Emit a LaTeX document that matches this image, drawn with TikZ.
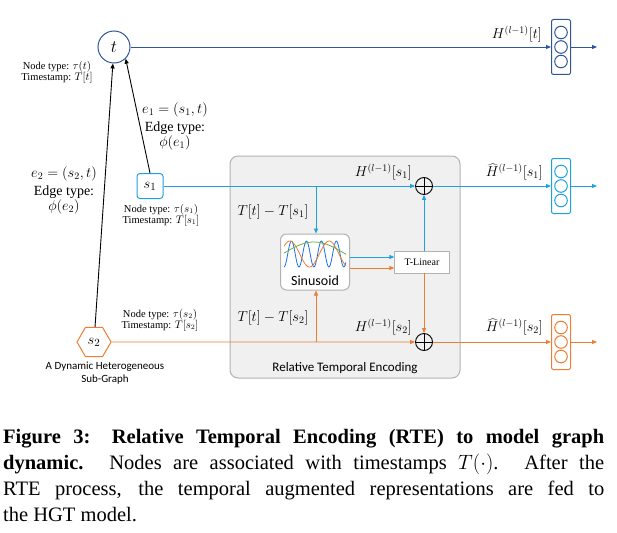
\documentclass[tikz,border=0pt]{standalone}
\usepackage{fontspec}
\setmainfont{Liberation Serif}
\newfontfamily\calfnt{Carlito}
\usetikzlibrary{shapes.geometric,arrows.meta,calc}
\definecolor{dblue}{RGB}{47,85,151}
\definecolor{cblue}{RGB}{29,161,226}
\definecolor{orng}{RGB}{237,125,49}
\definecolor{grn}{RGB}{112,173,71}
\tikzset{
  x=1pt,y=-1pt,
  arr/.style={-{Triangle[length=5pt,width=4pt]},line width=0.9pt},
  small/.style={font=\fontsize{10.5}{11}\selectfont,align=center,inner sep=0pt},
  mlab/.style={font=\fontsize{14}{15}\selectfont,inner sep=0pt},
  vec/.style={draw=#1,rounded corners=2pt,line width=1pt,minimum width=19pt,minimum height=55pt},
  opl/.style={draw,circle,line width=0.9pt,minimum size=17pt,inner sep=0pt},
}
\newcommand{\vecbox}[3]{%
  \node[vec=#3] (#1) at #2 {};
  \foreach \d in {-14.5,0,14.5}{\draw[#3,line width=1pt] ($(#1.center)+(0,\d)$) circle (6.3pt);}
}
\begin{document}
\begin{tikzpicture}
\useasboundingbox (0,0) rectangle (617,532);
% gray box
\node[draw=gray!60,fill=gray!12,rounded corners=8pt,line width=1pt,minimum width=230pt,minimum height=222pt] (rte) at (345,267) {};
\node[font=\calfnt\fontsize{13}{14}\selectfont] (rtel) at (345,368) {Relative Temporal Encoding};
% nodes
\node[draw=dblue,circle,line width=1pt,minimum size=32pt,inner sep=0pt,font=\fontsize{17}{18}\selectfont] (t) at (114,47) {$t$};
\node[draw=cblue,rounded corners=3pt,line width=1pt,minimum width=26pt,minimum height=25pt,font=\fontsize{15}{16}\selectfont] (s1) at (150,186) {$s_1$};
\node[draw=orng,regular polygon,regular polygon sides=6,line width=1pt,minimum size=34pt,inner sep=0pt,font=\fontsize{15}{16}\selectfont] (s2) at (94,342) {$s_2$};
\vecbox{vt}{(561,47)}{dblue}
\vecbox{v1}{(561,186)}{cblue}
\vecbox{v2}{(561,342)}{orng}
\coordinate (ot) at (597,47);
\coordinate (o1) at (597,186);
\coordinate (o2) at (597,342);
\node[opl] (p1) at (424,186) {};
\node[opl] (p2) at (424,342) {};
\draw[line width=0.9pt] (p1.north)--(p1.south) (p1.west)--(p1.east) (p2.north)--(p2.south) (p2.west)--(p2.east);
% sinusoid
\node[draw=gray!60,fill=white,rounded corners=6pt,line width=1pt,minimum width=69pt,minimum height=56pt] (sin) at (315,262) {};
\node[font=\calfnt\fontsize{14}{15}\selectfont] (sinl) at (315,281) {Sinusoid};
\begin{scope}
\clip (284,238) rectangle (346,270);
\draw[cblue!70!blue,line width=0.8pt] plot[domain=284:346,samples=80,smooth] (\x,{254+13*cos(deg((\x-284)*0.42))});
\draw[orng,line width=0.8pt] plot[domain=284:346,samples=60,smooth] (\x,{254+13*cos(deg((\x-284)*0.16+2.2))});
\draw[grn,line width=0.8pt] plot[domain=284:346,samples=40,smooth] (\x,{254-12*cos(deg((\x-284)*0.05-1.5))});
\end{scope}
\node[draw=gray!60,fill=white,minimum width=55pt,minimum height=22pt,font=\fontsize{10}{11}\selectfont] (tl) at (422,262) {T-Linear};
% lines
\draw[arr,dblue] (t) -- (vt);
\draw[arr,dblue] (vt) -- (ot);
\draw[arr,cblue] (s1) -- (p1);
\draw[arr,cblue] (p1) -- (v1);
\draw[arr,cblue] (v1) -- (o1);
\draw[arr,orng] (s2) -- (p2);
\draw[arr,orng] (p2) -- (v2);
\draw[arr,orng] (v2) -- (o2);
\coordinate (j1) at (316,186);
\coordinate (j2) at (316,342);
\draw[arr,cblue] (j1) -- (sin.north-|j1);
\draw[arr,orng] (j2) -- (sin.south-|j2);
\draw[arr,cblue] (sin.east|-0,257) -- (tl.west|-0,257);
\draw[arr,orng] (sin.east|-0,268) -- (tl.west|-0,268);
\draw[arr,cblue] (tl.north-|p1) -- (p1);
\draw[arr,orng] (tl.south-|p2) -- (p2);
\draw[arr,black] (s2) -- (t);
\draw[arr,black] (s1.north) -- (t.south east);
% labels
\node[mlab,anchor=east] (lht) at (542,34) {$H^{(l-1)}[t]$};
\node[mlab,anchor=east] (lh1) at (412,172) {$H^{(l-1)}[s_1]$};
\node[mlab,anchor=east] (lh2) at (412,327) {$H^{(l-1)}[s_2]$};
\node[mlab,anchor=east] (lhh1) at (543,172) {$\widehat{H}^{(l-1)}[s_1]$};
\node[mlab,anchor=east] (lhh2) at (543,327) {$\widehat{H}^{(l-1)}[s_2]$};
\node[mlab] (ld1) at (273,212) {$T[t]-T[s_1]$};
\node[mlab] (ld2) at (273,318) {$T[t]-T[s_2]$};
\node[small] (nt) at (57,72) {Node type: $\tau(t)$\\Timestamp: $T[t]$};
\node[small] (n1) at (161,215) {Node type: $\tau(s_1)$\\Timestamp: $T[s_1]$};
\node[small] (n2) at (160,320) {Node type: $\tau(s_2)$\\Timestamp: $T[s_2]$};
\node[font=\fontsize{14}{15}\selectfont,align=center,inner sep=0pt] (le1) at (175,126) {$e_1=(s_1,t)$\\[3pt]Edge type:\\$\phi(e_1)$};
\node[font=\fontsize{14}{15}\selectfont,align=center,inner sep=0pt] (le2) at (64,190) {$e_2=(s_2,t)$\\[3pt]Edge type:\\$\phi(e_2)$};
\node[font=\calfnt\fontsize{11}{13}\selectfont,align=center,inner sep=0pt] (sg) at (105,373) {A Dynamic Heterogeneous\\Sub-Graph};
% caption
\begin{scope}[every node/.style={anchor=base west,inner sep=0pt,font=\fontsize{20.5}{22}\selectfont}]
\node (c1) at (3,443) {\makebox[601pt][s]{\textbf{Figure 3: Relative Temporal Encoding (RTE) to model graph}}};
\node (c2) at (3,469) {\makebox[601pt][s]{\textbf{dynamic.} Nodes are associated with timestamps $T(\cdot)$. After the}};
\node (c3) at (3,495) {\makebox[601pt][s]{RTE process, the temporal augmented representations are fed to}};
\node (c4) at (3,521) {the HGT model.};
\end{scope}
\end{tikzpicture}
\end{document}
